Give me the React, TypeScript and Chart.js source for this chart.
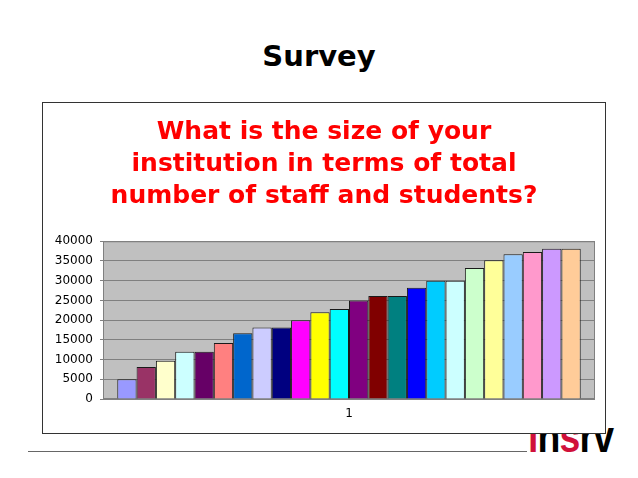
import React, { useEffect, useRef } from 'react';
import { Chart, registerables } from 'chart.js';

Chart.register(...registerables);

const pageTitle = 'Survey';
const chartTitle = [
  'What is the size of your',
  'institution in terms of total',
  'number of staff and students?',
];
const categories = ['1'];
const values = [
  5000, 8100, 9700, 12000, 12000, 14200, 16700, 18100, 18100, 20000, 22000, 22800,
  25000, 26100, 26100, 28200, 30000, 30000, 33200, 35200, 36700, 37300, 38100, 38100,
];
const colors = [
  '#9999FF', '#993366', '#FFFFCC', '#CCFFFF', '#660066', '#FF8080', '#0066CC', '#CCCCFF',
  '#000080', '#FF00FF', '#FFFF00', '#00FFFF', '#800080', '#800000', '#008080', '#0000FF',
  '#00CCFF', '#CCFFFF', '#CCFFCC', '#FFFF99', '#99CCFF', '#FF99CC', '#CC99FF', '#FFCC99',
];
const yMin = 0;
const yMax = 40000;
const yStep = 5000;

const plotBg = {
  id: 'plotBg',
  beforeDraw(chart: any) {
    const { ctx, chartArea: a } = chart;
    ctx.save();
    ctx.fillStyle = '#C0C0C0';
    ctx.fillRect(a.left, a.top, a.right - a.left, a.bottom - a.top);
    ctx.restore();
  },
  beforeDatasetsDraw(chart: any) {
    const { ctx, chartArea: a } = chart;
    ctx.save();
    ctx.strokeStyle = '#808080';
    ctx.lineWidth = 1;
    ctx.strokeRect(a.left + 0.5, a.top + 0.5, a.right - a.left - 1, a.bottom - a.top - 1);
    ctx.restore();
  },
};

function BarChart() {
  const ref = useRef<HTMLCanvasElement | null>(null);
  useEffect(() => {
    if (!ref.current) return;
    const chart = new Chart(ref.current, {
      type: 'bar',
      data: {
        labels: categories,
        datasets: values.map((v, i) => ({
          label: 'S' + (i + 1),
          data: [v],
          backgroundColor: colors[i],
          borderColor: '#1a1a1a',
          borderWidth: 1,
          categoryPercentage: 0.942,
          barPercentage: 1,
        })),
      },
      options: {
        responsive: false,
        animation: false,
        layout: { padding: { left: 10, right: 10, top: 0, bottom: 4 } },
        plugins: {
          legend: { display: false },
          tooltip: { enabled: false },
          title: {
            display: true,
            text: chartTitle,
            color: '#FF0000',
            font: { family: '"DejaVu Sans", sans-serif', size: 25, weight: 'bold', lineHeight: 1.27 },
            padding: { top: 14, bottom: 29 },
          },
        },
        scales: {
          x: {
            grid: { display: false, drawTicks: false },
            border: { display: false },
            ticks: { color: '#000', padding: 8, font: { family: '"DejaVu Sans", sans-serif', size: 12 } },
            afterFit(scale: any) { scale.height = 30; },
          },
          y: {
            min: yMin,
            max: yMax,
            ticks: {
              stepSize: yStep,
              color: '#000',
              padding: 7,
              font: { family: '"DejaVu Sans", sans-serif', size: 12 },
              callback: (v: any) => String(v),
            },
            grid: { color: '#808080', lineWidth: 1, drawTicks: true, tickLength: 3 },
            border: { display: true, color: '#808080' },
            afterFit(scale: any) { scale.width = 50; },
          },
        },
      },
      plugins: [plotBg],
    });
    return () => chart.destroy();
  }, []);
  return <canvas ref={ref} width={562} height={330} style={{ display: 'block' }} />;
}

export default function App() {
  return (
    <div style={{ position: 'absolute', left: 0, top: 0, width: 638, height: 478, background: '#fff', overflow: 'hidden' }}>
      <div
        style={{
          position: 'absolute', left: 0, top: 42, width: 638, textAlign: 'center',
          fontFamily: '"DejaVu Sans", sans-serif', fontWeight: 700, fontSize: 29, lineHeight: '29px', color: '#000',
        }}
      >
        {pageTitle}
      </div>
      <div style={{ position: 'absolute', left: 28, top: 451, width: 499, height: 1, background: '#666' }} />
      <div
        style={{
          position: 'absolute', left: 528, top: 415, fontFamily: '"Liberation Sans", Arial, sans-serif',
          fontWeight: 700, fontSize: 44, lineHeight: '44px', color: '#000', whiteSpace: 'nowrap',
          letterSpacing: -1, transform: 'scaleX(0.85)', transformOrigin: 'left top',
        }}
      >
        <span style={{ color: '#D0103A' }}>i</span>n<span style={{ color: '#D0103A' }}>s</span>rv
      </div>
      <div
        style={{
          position: 'absolute', left: 42, top: 102, width: 564, height: 332, boxSizing: 'border-box',
          border: '1px solid #333', background: '#fff', zIndex: 1,
        }}
      >
        <BarChart />
      </div>
    </div>
  );
}
